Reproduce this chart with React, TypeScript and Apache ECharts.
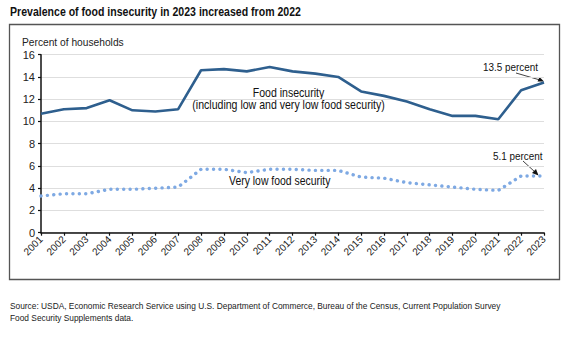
import React, { useEffect, useRef } from "react";
import * as echarts from "echarts";

const years = ["2001","2002","2003","2004","2005","2006","2007","2008","2009","2010","2011","2012","2013","2014","2015","2016","2017","2018","2019","2020","2021","2022","2023"];
const foodInsecurity = [10.7,11.1,11.2,11.9,11.0,10.9,11.1,14.6,14.7,14.5,14.9,14.5,14.3,14.0,12.7,12.3,11.8,11.1,10.5,10.5,10.2,12.8,13.5];
const veryLowFoodSecurity = [3.3,3.5,3.5,3.9,3.9,4.0,4.1,5.7,5.7,5.4,5.7,5.7,5.6,5.6,5.0,4.9,4.5,4.3,4.1,3.9,3.8,5.1,5.1];
const yTicks = [0, 2, 4, 6, 8, 10, 12, 14, 16];

const FONT = "'Liberation Sans', Arial, Helvetica, sans-serif";

export default function App() {
  const ref = useRef<HTMLDivElement>(null);
  useEffect(() => {
    const chart = echarts.init(ref.current!, null, { renderer: "svg" });
    chart.setOption({
      animation: false,
      backgroundColor: "#ffffff",
      textStyle: { fontFamily: FONT },
      grid: { left: 41, right: 26, top: 54.7, bottom: 104.3, containLabel: false },
      xAxis: {
        type: "category",
        data: years,
        boundaryGap: false,
        axisLine: { lineStyle: { color: "#111", width: 1.5 } },
        axisTick: { show: true, length: 3, lineStyle: { color: "#111", width: 1.2 } },
        axisLabel: { rotate: 45, fontSize: 10, color: "#222", margin: 5, fontFamily: FONT, interval: 0 },
        splitLine: { show: false },
      },
      yAxis: {
        type: "value",
        min: yTicks[0],
        max: yTicks[yTicks.length - 1],
        interval: 2,
        axisLine: { show: true, lineStyle: { color: "#111", width: 1.5 } },
        axisTick: { show: true, length: 3, lineStyle: { color: "#111", width: 1.2 } },
        axisLabel: { fontSize: 11, color: "#222", margin: 6, fontFamily: FONT },
        splitLine: { show: true, lineStyle: { color: "#dedede", width: 1.2 } },
      },
      series: [
        {
          name: "Food insecurity",
          type: "line",
          data: foodInsecurity,
          symbol: "none",
          lineStyle: { color: "#2e5f8e", width: 2.6 },
          z: 3,
        },
        {
          name: "Very low food security",
          type: "line",
          data: veryLowFoodSecurity,
          symbol: "none",
          lineStyle: { color: "#7ea9e3", width: 3.4, type: [0.1, 6.3], cap: "round" },
          z: 3,
        },
      ],
      graphic: [
        {
          type: "rect",
          shape: { x: 9.5, y: 24.5, width: 550, height: 255 },
          style: { fill: "none", stroke: "#555", lineWidth: 1.3 },
          z: -1,
        },
        {
          type: "text",
          x: 10,
          y: 6,
          scaleX: 0.88,
          style: { text: "Prevalence of food insecurity in 2023 increased from 2022", font: `bold 12px ${FONT}`, fill: "#111" },
        },
        {
          type: "text",
          x: 22,
          y: 36,
          scaleX: 0.93,
          style: { text: "Percent of households", font: `11px ${FONT}`, fill: "#222" },
        },
        {
          type: "text",
          x: 288.5,
          y: 87,
          scaleX: 0.88,
          style: { text: "Food insecurity", font: `12px ${FONT}`, fill: "#111", align: "center" },
        },
        {
          type: "text",
          x: 288.5,
          y: 99,
          scaleX: 0.88,
          style: { text: "(including low and very low food security)", font: `12px ${FONT}`, fill: "#111", align: "center" },
        },
        {
          type: "text",
          x: 229,
          y: 175,
          scaleX: 0.87,
          style: { text: "Very low food security", font: `12px ${FONT}`, fill: "#111" },
        },
        {
          type: "text",
          x: 483,
          y: 61.5,
          scaleX: 0.9,
          style: { text: "13.5 percent", font: `11px ${FONT}`, fill: "#111" },
        },
        { type: "line", shape: { x1: 516, y1: 73, x2: 540, y2: 80 }, style: { stroke: "#111", lineWidth: 0.8 } },
        { type: "polygon", shape: { points: [[544, 81.5], [537.5, 81.5], [539.5, 77]] }, style: { fill: "#111" } },
        {
          type: "text",
          x: 493,
          y: 150.5,
          scaleX: 0.9,
          style: { text: "5.1 percent", font: `11px ${FONT}`, fill: "#111" },
        },
        { type: "line", shape: { x1: 523, y1: 161, x2: 535, y2: 172 }, style: { stroke: "#111", lineWidth: 0.8 } },
        { type: "polygon", shape: { points: [[538.5, 175.5], [532, 173], [536, 169]] }, style: { fill: "#111" } },
        {
          type: "text",
          x: 10,
          y: 301,
          scaleX: 0.87,
          style: { text: "Source: USDA, Economic Research Service using U.S. Department of Commerce, Bureau of the Census, Current Population Survey", font: `9.6px ${FONT}`, fill: "#222" },
        },
        {
          type: "text",
          x: 10,
          y: 313,
          scaleX: 0.87,
          style: { text: "Food Security Supplements data.", font: `9.6px ${FONT}`, fill: "#222" },
        },
      ],
    });
    return () => chart.dispose();
  }, []);
  return <div ref={ref} style={{ width: 570, height: 337, position: "fixed", left: 0, top: 0 }} />;
}
